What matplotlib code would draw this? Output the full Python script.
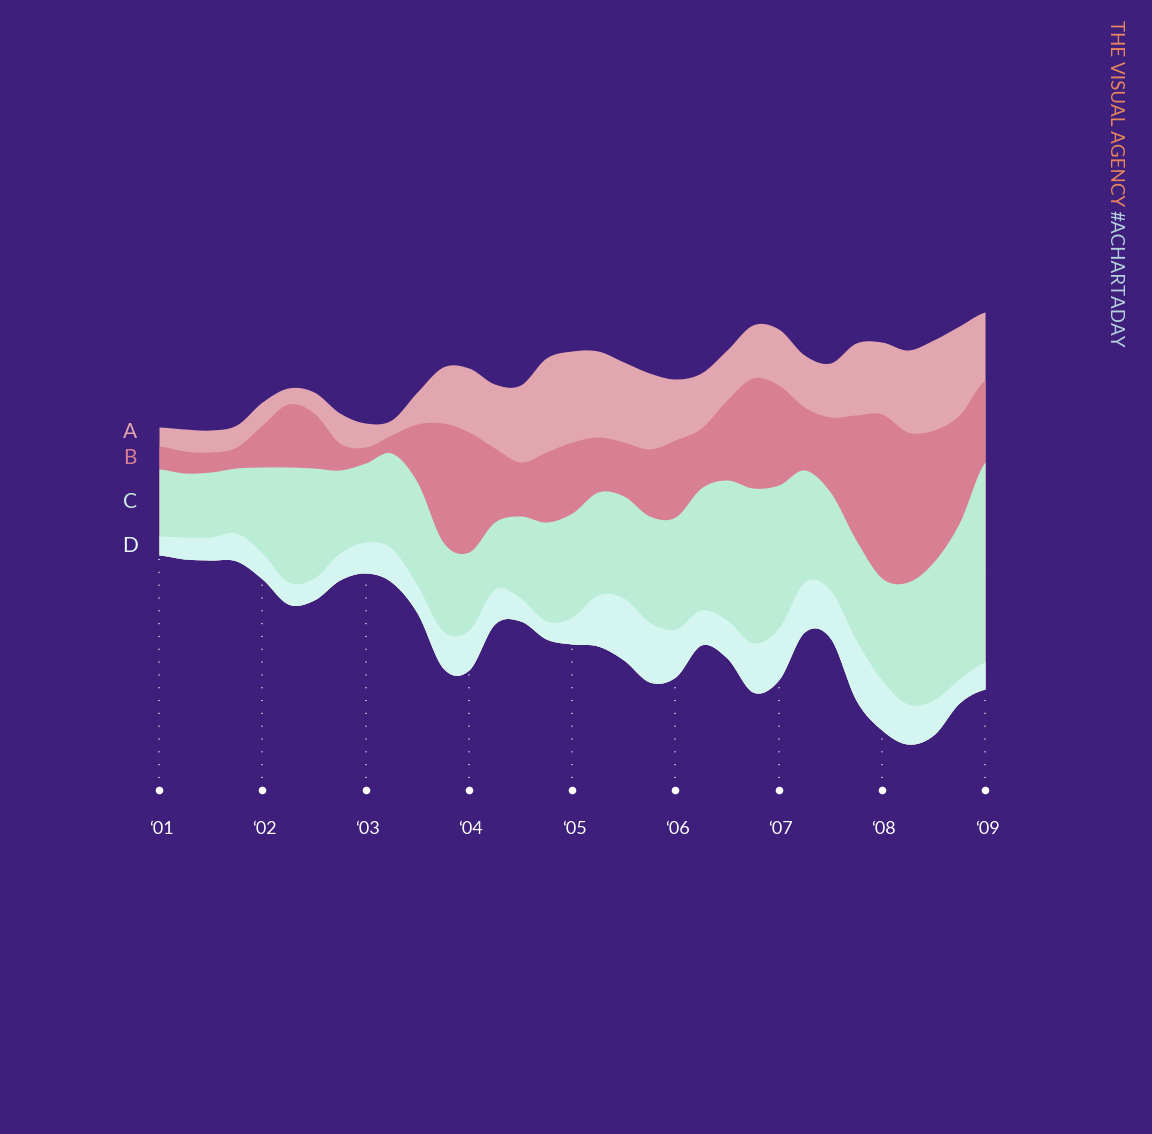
import numpy as np
import matplotlib
matplotlib.use("Agg")
import matplotlib.pyplot as plt

# sample positions (years, 1 = 2001) and layer thicknesses
t = np.arange(1.0, 9.01, 0.25)
base = [23.5, 23.1, 23.0, 22.9, 21.1, 18.6, 19.0, 21.0, 21.7, 20.8, 17.7, 12.2, 12.0,
        16.6, 16.9, 15.1, 14.6, 14.4, 13.0, 10.8, 11.3, 14.5, 13.2, 9.8, 11.0,
        15.8, 15.2, 9.0, 6.0, 4.6, 5.5, 8.7, 10.1]
layer_d = [1.9, 2.2, 2.3, 2.8, 2.6, 2.2, 2.2, 2.7, 3.1, 3.4, 2.8, 3.7, 4.0,
           3.5, 2.3, 1.8, 2.7, 5.1, 6.2, 6.0, 4.8, 3.5, 3.8, 4.9, 5.2,
           5.0, 4.8, 6.0, 5.0, 4.0, 3.5, 2.4, 2.7]
layer_c = [6.7, 6.4, 6.5, 6.5, 8.6, 11.5, 11.0, 8.3, 7.9, 9.5, 10.3, 8.9, 7.8,
           6.7, 8.2, 9.9, 10.4, 10.3, 10.2, 10.6, 11.2, 12.2, 14.0, 15.5, 14.3,
           11.2, 9.8, 10.0, 10.2, 12.2, 13.8, 15.6, 20.0]
layer_b = [2.3, 2.2, 2.0, 2.1, 4.2, 6.3, 5.5, 2.7, 1.6, 1.8, 5.8, 11.9, 12.0,
           7.4, 5.4, 7.0, 7.1, 5.5, 5.4, 6.7, 7.7, 6.0, 8.0, 11.0, 10.0,
           6.3, 7.5, 12.5, 16.4, 15.0, 13.2, 10.8, 8.2]
layer_a = [1.9, 2.2, 2.2, 2.2, 2.3, 1.6, 2.1, 3.0, 2.4, 1.5, 3.2, 5.6, 6.4,
           6.4, 7.7, 9.4, 9.1, 8.6, 8.0, 7.6, 6.1, 5.5, 5.0, 5.3, 5.6,
           5.2, 5.4, 7.2, 7.2, 8.2, 9.0, 8.9, 6.8]

years = [1, 2, 3, 4, 5, 6, 7, 8, 9]
year_labels = ["\u201801", "\u201802", "\u201803", "\u201804", "\u201805",
               "\u201806", "\u201807", "\u201808", "\u201809"]
names = ["A", "B", "C", "D"]

bg = "#3e1f7b"
colors = {"A": "#e2a6b1", "B": "#d87f94", "C": "#bbecd6", "D": "#d5f5f1"}
label_colors = {"A": "#e2a6b1", "B": "#d87f94", "C": "#c9ecdf", "D": "#e8f6f6"}


def smooth(x, y, per=24):
    # catmull-rom through the read points
    x = np.asarray(x, float)
    p = np.concatenate([[y[0]], np.asarray(y, float), [y[-1]]])
    s = np.linspace(0, 1, per, endpoint=False)
    xs, ys = [], []
    for i in range(len(x) - 1):
        p0, p1, p2, p3 = p[i], p[i + 1], p[i + 2], p[i + 3]
        ys.append(0.5 * (2 * p1 + (-p0 + p2) * s + (2 * p0 - 5 * p1 + 4 * p2 - p3) * s ** 2
                         + (-p0 + 3 * p1 - 3 * p2 + p3) * s ** 3))
        xs.append(x[i] + (x[i + 1] - x[i]) * s)
    xs.append([x[-1]])
    ys.append([p[-2]])
    return np.concatenate(xs), np.concatenate(ys)


fig = plt.figure(figsize=(11.52, 11.34), dpi=100, facecolor=bg)
ax = fig.add_axes([0, 0, 1, 1])
ax.set_facecolor(bg)
ax.set_xlim(-0.540, 10.617)
ax.set_ylim(-34.4, 79.0)
ax.axis("off")

# dotted guide lines and dots
for yr in years:
    ax.plot([yr, yr], [1.2, 24.0], linestyle=(0, (0.6, 6.5)), color="white",
            alpha=0.7, lw=1.3, zorder=1)
ax.scatter(years, [0] * len(years), s=30, color="white", zorder=3, lw=0)
for yr, lab in zip(years, year_labels):
    ax.text(yr + 0.02, -3.9, lab, color="white", fontsize=13, ha="center",
            va="center", family=["Lato", "DejaVu Sans"])

# stacked layers, bottom to top: D, C, B, A
bounds = [np.array(base, float)]
for lay in [layer_d, layer_c, layer_b, layer_a]:
    bounds.append(bounds[-1] + np.array(lay, float))
order = ["D", "C", "B", "A"]
xs, lo = smooth(t, bounds[0])
# draw each band from the baseline, top band first, so no seams show
for k in range(len(order) - 1, -1, -1):
    _, hi = smooth(t, bounds[k + 1])
    ax.fill_between(xs, lo, hi, color=colors[order[k]], lw=0, zorder=2)

# series labels at the left edge, at each layer's middle
for k, name in enumerate(order):
    mid = (bounds[k][0] + bounds[k + 1][0]) / 2
    if name == "A":
        mid += 0.4
    ax.text(0.72, mid, name, color=label_colors[name], fontsize=15, ha="center",
            va="center", family=["Lato", "DejaVu Sans"])

# vertical credits on the right
fig.text(1115 / 1152, 1 - 20 / 1134, "THE VISUAL AGENCY", rotation=-90,
         color="#e8865e", fontsize=13.5, ha="center", va="top",
         family=["Lato", "DejaVu Sans"])
fig.text(1115 / 1152, 1 - 348 / 1134, "#ACHARTADAY", rotation=-90,
         color="#b7d3df", fontsize=13.5, ha="center", va="bottom",
         family=["Lato", "DejaVu Sans"])

fig.savefig("out.png", dpi=100, facecolor=bg)
